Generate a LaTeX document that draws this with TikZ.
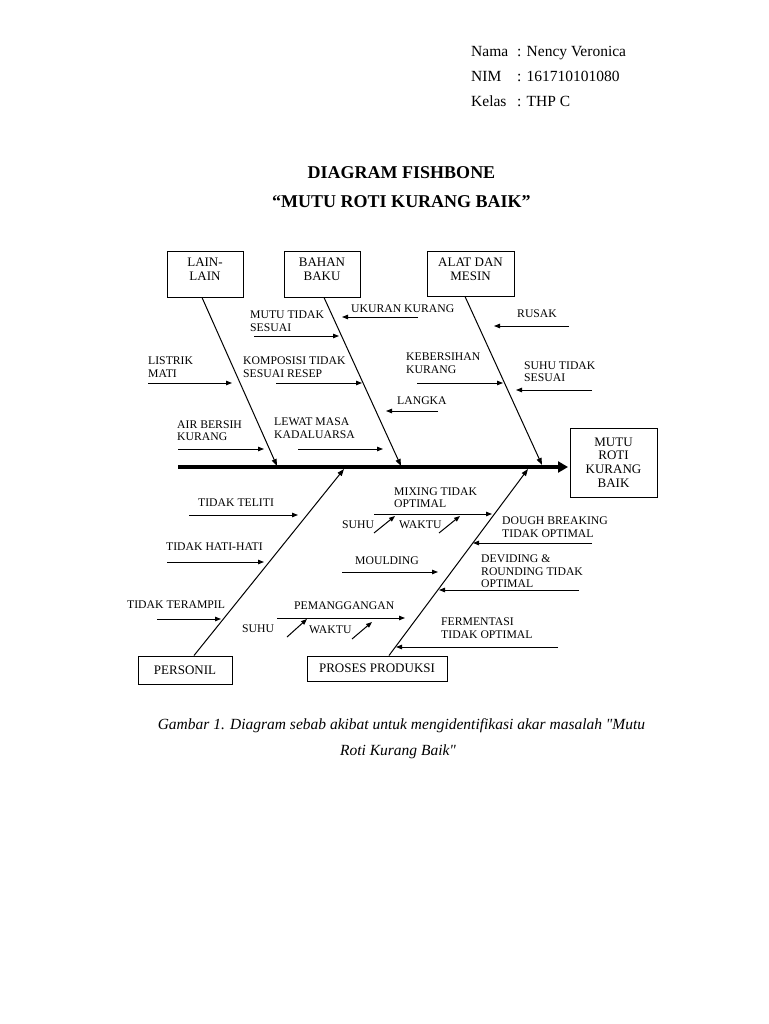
\documentclass[tikz,border=0pt]{standalone}
\usepackage{fontspec}
\setmainfont{Liberation Serif}
\usetikzlibrary{arrows.meta}
\tikzset{
	head/.style={anchor=base west, inner sep=0pt, font=\fontsize{15.5}{18}\selectfont},
	title/.style={anchor=base, inner sep=0pt, font=\fontsize{18}{20}\selectfont\bfseries},
	cause/.style={anchor=west, inner sep=0pt, align=left, font=\fontsize{11.7}{12.4}\selectfont},
	catbox/.style={draw, line width=1pt, inner sep=0pt, align=center,
		font=\fontsize{13}{13.7}\selectfont},
	bone/.style={line width=1pt, -{Triangle[length=7pt,width=5pt]}},
	causearrow/.style={line width=1pt, -{Triangle[length=6pt,width=4.5pt]}},
	spine/.style={line width=3.5pt, -{Triangle[length=10pt,width=11pt]}}
}
\begin{document}
	\begin{tikzpicture}[x=1pt, y=-1pt]
		\useasboundingbox[fill=white] (0,0) rectangle (768,1024);
		% header
		\node[head] (nama)  at (471,57) {Nama};
		\node[head] (namav) at (517,57) {: Nency Veronica};
		\node[head] (nim)   at (471,82) {NIM};
		\node[head] (nimv)  at (517,82) {: 161710101080};
		\node[head] (kelas) at (471,107) {Kelas};
		\node[head] (kelasv) at (517,107) {: THP C};
		\node[title] (judul) at (401.5,179) {DIAGRAM FISHBONE};
		\node[title] (judul2) at (401.5,208) {“MUTU ROTI KURANG BAIK”};
		% categories
		\node[catbox, minimum width=76pt, minimum height=46pt, text depth=9pt] (lain) at (205,274) {LAIN-\\LAIN};
		\node[catbox, minimum width=76pt, minimum height=46pt, text depth=9pt] (bahan) at (322,274) {BAHAN\\BAKU};
		\node[catbox, minimum width=87pt, minimum height=45pt, text depth=9pt] (alat) at (470.5,273.5) {ALAT DAN\\MESIN};
		\node[catbox, minimum width=87pt, minimum height=69pt] (mutu) at (613.5,462.5) {MUTU\\ROTI\\KURANG\\BAIK};
		\node[catbox, minimum width=94pt, minimum height=28pt] (personil) at (185,670) {PERSONIL};
		\node[catbox, minimum width=140pt, minimum height=25pt] (proses) at (377,668.5) {PROSES PRODUKSI};
		% spine and bones
		\coordinate (s0) at (178,467);
		\coordinate (s1) at (568,467);
		\draw[spine] (s0) -- (s1);
		\coordinate (tlain) at (277,466);
		\coordinate (tbahan) at (401,466);
		\coordinate (talat) at (542,465);
		\coordinate (tpersonil) at (344,469);
		\coordinate (tproses) at (528,469);
		\draw[bone] ([xshift=-3pt]lain.south) -- (tlain);
		\draw[bone] ([xshift=2pt]bahan.south) -- (tbahan);
		\draw[bone] ([xshift=-5.5pt]alat.south) -- (talat);
		\draw[bone] ([xshift=9pt]personil.north) -- (tpersonil);
		\draw[bone] ([xshift=12pt]proses.north) -- (tproses);
		% causes
		\foreach\n/\a/\b/\y in{
			1/148/232/383,   2/178/264/449,   3/254/339/336,
			4/418/342/317,   5/276/362/383,   6/438/386/411,
			7/298/383/449,   8/569/494/326,   9/417/503/383,
			10/592/516/390,  11/189/298/515,  12/167/264/562,
			13/157/221/619,  14/374/492/514,  15/592/473/543,
			16/342/438/572,  17/579/439/590,  18/277/405/618,
			19/558/396/647
		}{
			\coordinate (a\n) at (\a,\y);
			\coordinate (b\n) at (\b,\y);
			\draw[causearrow] (a\n) -- (b\n);
		}
		\foreach\n/\a/\b/\c/\d in{
			1/374/533/395/516,  2/439/533/460/516,
			3/287/637/307/619,  4/352/639/372/622
		}{
			\coordinate (p\n) at (\a,\b);
			\coordinate (q\n) at (\c,\d);
			\draw[causearrow] (p\n) -- (q\n);
		}
		\node[cause] (listrik) at (148,367) {LISTRIK\\MATI};
		\node[cause] (air) at (177,430.5) {AIR BERSIH\\KURANG};
		\node[cause] (mututidak) at (250,321) {MUTU TIDAK\\SESUAI};
		\node[cause] (ukuran) at (351,309) {UKURAN KURANG};
		\node[cause] (komposisi) at (243,367) {KOMPOSISI TIDAK\\SESUAI RESEP};
		\node[cause] (langka) at (397,401) {LANGKA};
		\node[cause] (lewat) at (274,428) {LEWAT MASA\\KADALUARSA};
		\node[cause] (rusak) at (517,314) {RUSAK};
		\node[cause] (kebersihan) at (406,363) {KEBERSIHAN\\KURANG};
		\node[cause] (suhutidak) at (524,371.5) {SUHU TIDAK\\SESUAI};
		\node[cause] (teliti) at (198,503) {TIDAK TELITI};
		\node[cause] (hati) at (166,547) {TIDAK HATI-HATI};
		\node[cause] (terampil) at (127,605) {TIDAK TERAMPIL};
		\node[cause] (mixing) at (394,497.5) {MIXING TIDAK\\OPTIMAL};
		\node[cause] (suhua) at (342,525) {SUHU};
		\node[cause] (waktua) at (399,525) {WAKTU};
		\node[cause] (dough) at (502,527) {DOUGH BREAKING\\TIDAK OPTIMAL};
		\node[cause] (moulding) at (355,561) {MOULDING};
		\node[cause] (deviding) at (481,571.5) {DEVIDING \&\\ROUNDING TIDAK\\OPTIMAL};
		\node[cause] (pemanggangan) at (294,606) {PEMANGGANGAN};
		\node[cause] (suhub) at (242,629) {SUHU};
		\node[cause] (waktub) at (309,630) {WAKTU};
		\node[cause] (fermentasi) at (441,628) {FERMENTASI\\TIDAK OPTIMAL};
		% caption
		\node[head, anchor=base, font=\fontsize{15.5}{18}\selectfont\itshape] (cap1) at (401.5,729)
			{Gambar 1. Diagram sebab akibat untuk mengidentifikasi akar masalah \textquotedbl Mutu};
		\node[head, anchor=base, font=\fontsize{15.5}{18}\selectfont\itshape] (cap2) at (398,755)
			{Roti Kurang Baik\textquotedbl};
	\end{tikzpicture}
\end{document}
